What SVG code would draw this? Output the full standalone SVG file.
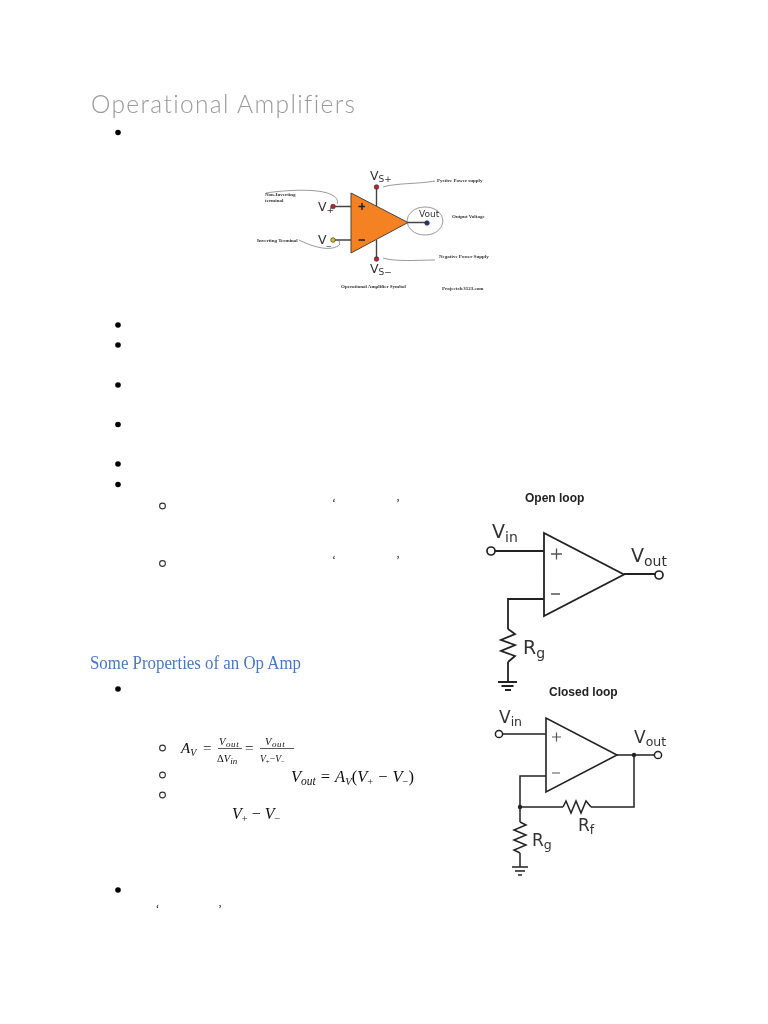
<svg xmlns="http://www.w3.org/2000/svg" width="768" height="1024" viewBox="0 0 768 1024">
<defs>
<filter id="soft" x="-5%" y="-5%" width="110%" height="110%"><feGaussianBlur stdDeviation="0.45"/></filter>
<filter id="softer" x="-5%" y="-5%" width="110%" height="110%"><feGaussianBlur stdDeviation="0.25"/></filter>
</defs>
<style>
.bul{fill:#000}
.sub{fill:none;stroke:#333;stroke-width:1.1}
.q{font-family:"Liberation Serif",serif;font-size:12px;fill:#222}
.m{font-family:"Liberation Serif",serif;font-style:italic;fill:#111}
.mr{font-family:"Liberation Serif",serif;fill:#111}
.w{fill:none;stroke:#222;stroke-linejoin:miter}
.lab{font-family:"DejaVu Sans",sans-serif;fill:#333}
.cap{font-family:"Liberation Sans",sans-serif;font-weight:bold;fill:#222;font-size:12px}
.t{font-family:"Liberation Serif",serif;font-weight:bold;fill:#333;font-size:5px}
.thin{fill:none;stroke:#555;stroke-width:.6}
</style>
<rect width="768" height="1024" fill="#fff"/>
<text id="title" x="91" y="113" font-family="Lato,sans-serif" font-weight="300" font-size="24.500" fill="#999" style="font-variant-ligatures:none" textLength="264" lengthAdjust="spacing" filter="url(#softer)">Operational Amplifiers</text>
<text id="heading" x="90" y="669" font-family="Liberation Serif,serif" font-size="19" fill="#4a78c2" textLength="211" lengthAdjust="spacingAndGlyphs" filter="url(#softer)">Some Properties of an Op Amp</text>

<g id="bullets" class="bul">
<circle cx="118" cy="132.500" r="2.800"/><circle cx="118" cy="325" r="2.800"/><circle cx="118" cy="345" r="2.800"/><circle cx="118" cy="385" r="2.800"/><circle cx="118" cy="424.500" r="2.800"/><circle cx="118" cy="464" r="2.800"/><circle cx="118" cy="484.500" r="2.800"/><circle cx="118" cy="689" r="2.800"/><circle cx="118" cy="890" r="2.800"/>
</g>
<g id="subbullets">
<circle class="sub" cx="162.500" cy="506" r="2.900"/><circle class="sub" cx="162.500" cy="563.500" r="2.900"/><circle class="sub" cx="162.500" cy="748" r="2.900"/><circle class="sub" cx="162.500" cy="775" r="2.900"/><circle class="sub" cx="162.500" cy="795" r="2.900"/>
</g>
<g id="quotes" filter="url(#softer)">
<text class="q" x="332" y="507">‘</text><text class="q" x="396" y="507">’</text>
<text class="q" x="332" y="564">‘</text><text class="q" x="396" y="564">’</text>
<text class="q" x="155.500" y="913">‘</text><text class="q" x="218" y="913">’</text>
</g>

<g id="equations" filter="url(#softer)">
<text class="m" x="181" y="753" font-size="15">A<tspan font-size="10" dy="3">V</tspan></text>
<text class="mr" x="203" y="753" font-size="15">=</text>
<text class="m" x="219" y="745" font-size="10.500" letter-spacing=".6">V<tspan font-size="9" dy="1.500">out</tspan></text>
<line x1="218" y1="748.500" x2="242" y2="748.500" stroke="#111" stroke-width=".7"/>
<text class="m" x="217" y="762" font-size="10.500"><tspan font-style="normal">Δ</tspan>V<tspan font-size="9" dy="1.500">in</tspan></text>
<text class="mr" x="245" y="753" font-size="15">=</text>
<text class="m" x="265" y="745" font-size="10.500" letter-spacing=".6">V<tspan font-size="9" dy="1.500">out</tspan></text>
<line x1="260" y1="748.500" x2="294" y2="748.500" stroke="#111" stroke-width=".7"/>
<text class="m" x="260" y="762" font-size="9.500">V<tspan font-size="7" dy="1.500" font-style="normal">+</tspan><tspan dy="-1.500" font-style="normal">−</tspan>V<tspan font-size="7" dy="1.500" font-style="normal">−</tspan></text>
<text class="m" x="291" y="782" font-size="16.500">V<tspan font-size="11.500" dy="3">out</tspan><tspan font-style="normal" dy="-3" dx="5">=</tspan><tspan dx="5">A</tspan><tspan font-size="10.500" dy="3">V</tspan><tspan font-style="normal" dy="-3">(</tspan>V<tspan font-size="10.500" dy="3" font-style="normal">+</tspan><tspan font-style="normal" dy="-3" dx="5">−</tspan><tspan dx="5">V</tspan><tspan font-size="10.500" dy="3" font-style="normal">−</tspan><tspan font-style="normal" dy="-3">)</tspan></text>
<text class="m" x="232" y="819" font-size="16">V<tspan font-size="10.500" dy="3" font-style="normal">+</tspan><tspan font-style="normal" dy="-3" dx="4">−</tspan><tspan dx="4">V</tspan><tspan font-size="10.500" dy="3" font-style="normal">−</tspan></text>
</g>

<g id="symbol-figure" filter="url(#soft)">
<g id="symbol-connectors">
<path fill="none" stroke="#444" stroke-width="1.400" d="M333 206.500H351M333 240H351M376.500 187V206M376.500 240V259M408 222.500H427"/>
<path class="thin" d="M266 193C285 190 320 188 332 195C338 198 338 202 337 204M299 240C315 248 330 251 338 246C340 245 340 243 339 241M383 187C395 183 420 184 435 181M383 258C395 262 420 260 435 260"/>
<ellipse class="thin" cx="425" cy="221" rx="18" ry="14"/>
</g>
<g id="opamp-symbol">
<path d="M351 193V253L408 222.500Z" fill="#f58220" stroke="#444" stroke-width="1"/>
<path d="M358.500 206.500H365M362 203V210M358.500 240H365" stroke="#222" stroke-width="1.500"/>
</g>
<g id="symbol-terminals">
<circle cx="333" cy="206.500" r="2.300" fill="#c0202c" stroke="#333" stroke-width=".7"/>
<circle cx="333" cy="240" r="2.300" fill="#e2c020" stroke="#333" stroke-width=".7"/>
<circle cx="376.500" cy="187" r="2.300" fill="#c0202c" stroke="#333" stroke-width=".7"/>
<circle cx="376.500" cy="259" r="2.300" fill="#c0202c" stroke="#333" stroke-width=".7"/>
<circle cx="427" cy="223" r="2.300" fill="#203080" stroke="#333" stroke-width=".7"/>
</g>
<g id="symbol-labels">
<text class="lab" x="318" y="211" font-size="12.500">V<tspan font-size="9" dy="2">+</tspan></text>
<text class="lab" x="318" y="244" font-size="12.500">V<tspan font-size="9" dy="1">_</tspan></text>
<text class="lab" x="370" y="180" font-size="12.500">V<tspan font-size="9" dy="2">S+</tspan></text>
<text class="lab" x="370" y="273" font-size="12.500">V<tspan font-size="9" dy="2">S−</tspan></text>
<text class="lab" x="419" y="217" font-size="9">Vout</text>
<text class="t" x="265" y="196">Non-Inverting</text>
<text class="t" x="265" y="202">terminal</text>
<text class="t" x="257" y="242">Inverting Terminal</text>
<text class="t" x="437" y="182">Pystive Power supply</text>
<text class="t" x="452" y="218">Output Voltage</text>
<text class="t" x="439" y="258">Negative Power Supply</text>
<text class="t" x="341" y="288">Operational Amplifier Symbol</text>
<text class="t" x="442" y="290">Projectsfe3123.com</text>
</g>
</g>

<g id="open-loop" filter="url(#softer)">
<text class="cap" x="525" y="502">Open loop</text>
<g id="open-connectors" class="w" stroke-width="1.800">
<path d="M495 551H544M624 574H655M544 599H508V629M508 662V682"/>
<path d="M508 629L515 634L501 640L515 645L501 651L515 656L508 662"/>
<path d="M498 682H517M501.500 686H513.500M505 690H511"/>
</g>
<g id="open-opamp">
<path d="M544 533V616L624 574.500Z" fill="#fff" stroke="#222" stroke-width="1.800"/>
<path d="M551 554H562M556.500 548.500V559.500M551 594H560" fill="none" stroke="#555" stroke-width="1.300"/>
</g>
<circle id="open-vin-terminal" cx="491" cy="551" r="4" fill="#fff" stroke="#222" stroke-width="1.700"/>
<circle id="open-vout-terminal" cx="659" cy="575" r="4" fill="#fff" stroke="#222" stroke-width="1.700"/>
<text class="lab" x="492" y="538" font-size="19">V<tspan font-size="14" dy="4">in</tspan></text>
<text class="lab" x="631" y="562" font-size="19">V<tspan font-size="14" dy="4">out</tspan></text>
<text class="lab" x="523" y="654" font-size="19">R<tspan font-size="14" dy="4">g</tspan></text>
</g>

<g id="closed-loop" filter="url(#softer)">
<text class="cap" x="549" y="696">Closed loop</text>
<g id="closed-connectors" class="w" stroke-width="1.500">
<path d="M502.500 734H546M617 755H654M546 776H520V822M520 853V867M520 807H563M591 807H634V755"/>
<path d="M563 807L566 801L571 813L576 801L581 813L586 801L591 807"/>
<path d="M520 822L526 825L514 830L526 835L514 840L526 845L514 850L520 853"/>
<path d="M512 867H528M515 871H525M518 875H522"/>
</g>
<g id="closed-opamp">
<path d="M546 718V792L617 755Z" fill="#fff" stroke="#222" stroke-width="1.600"/>
<path d="M552 737H561M556.500 732.500V741.500M552 773H560" fill="none" stroke="#555" stroke-width="1.200"/>
</g>
<circle id="closed-junction-out" cx="634" cy="755" r="2.200" fill="#222"/>
<circle id="closed-junction-in" cx="520" cy="807" r="2.200" fill="#222"/>
<circle id="closed-vin-terminal" cx="499" cy="734" r="3.600" fill="#fff" stroke="#222" stroke-width="1.500"/>
<circle id="closed-vout-terminal" cx="658" cy="755" r="3.600" fill="#fff" stroke="#222" stroke-width="1.500"/>
<text class="lab" x="499" y="723" font-size="17">V<tspan font-size="12.500" dy="3">in</tspan></text>
<text class="lab" x="634" y="743" font-size="17">V<tspan font-size="12.500" dy="3">out</tspan></text>
<text class="lab" x="578" y="831" font-size="17">R<tspan font-size="12.500" dy="3">f</tspan></text>
<text class="lab" x="532" y="846" font-size="17">R<tspan font-size="12.500" dy="3">g</tspan></text>
</g>
</svg>
